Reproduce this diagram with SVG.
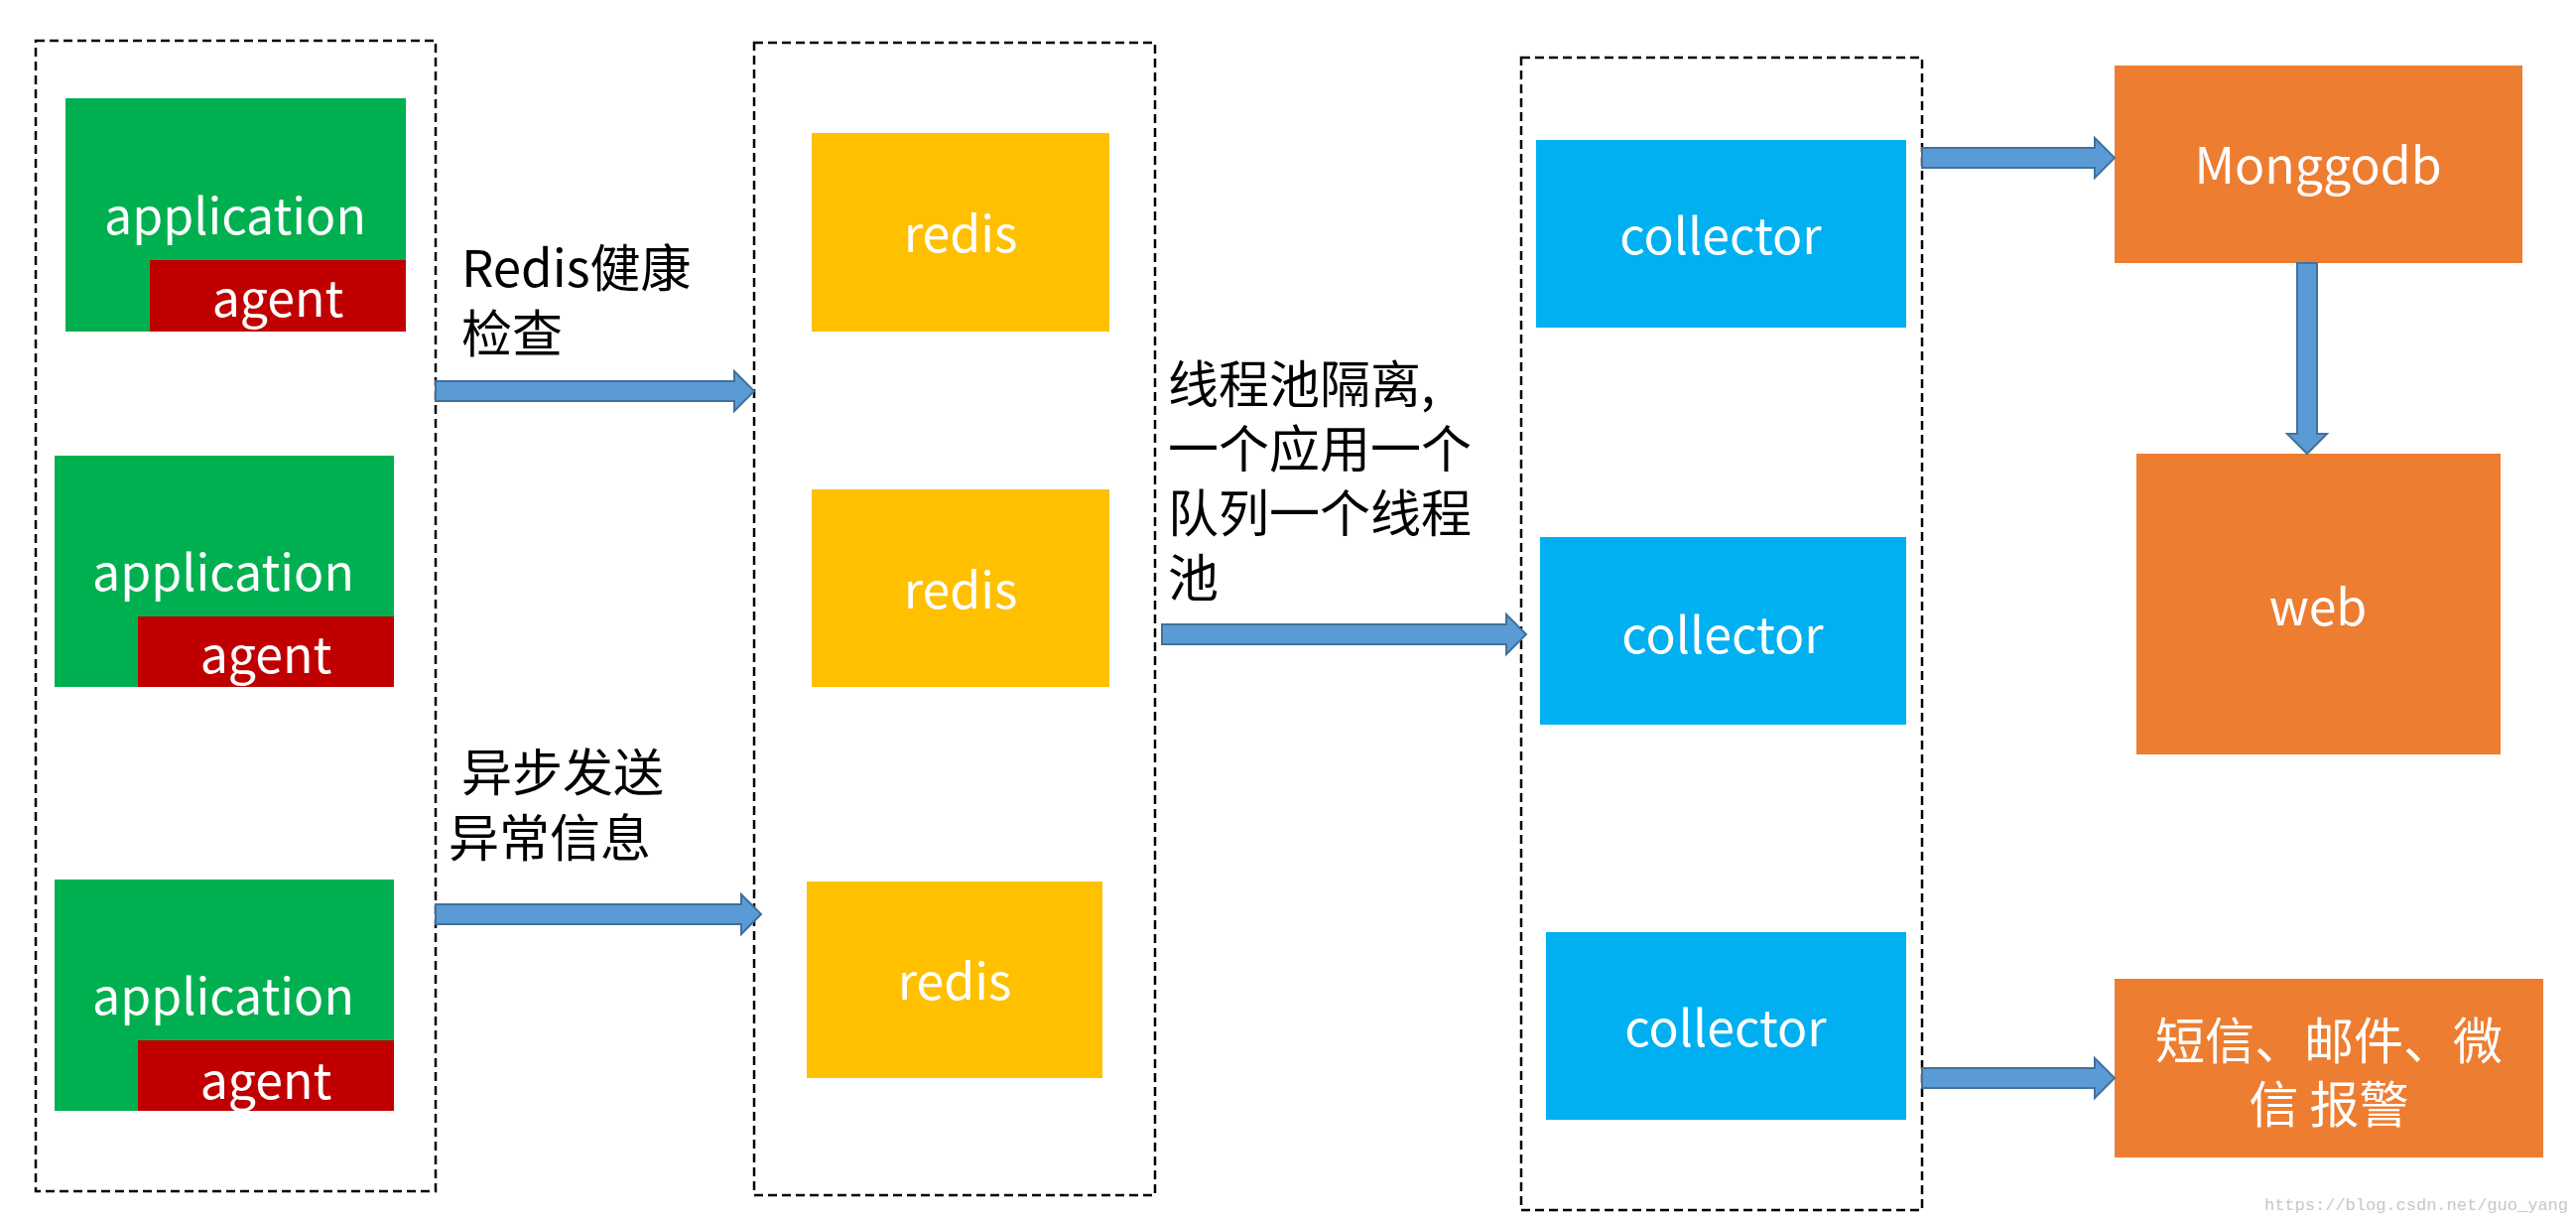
<svg xmlns="http://www.w3.org/2000/svg" width="2596" height="1232" viewBox="0 0 2596 1232">
<style>
.dash{fill:none;stroke:#000;stroke-width:2.5;stroke-dasharray:9 5}
.t{font-family:"Noto Sans CJK SC","Liberation Sans",sans-serif;fill:#fff;font-size:50px;text-anchor:middle;dominant-baseline:central}
.l{font-family:"Noto Sans CJK SC","Liberation Sans",sans-serif;fill:#000;font-size:51px;dominant-baseline:central}
.arr{fill:#5B9BD5;stroke:#41719C;stroke-width:2}
</style>
<rect width="2596" height="1232" fill="#fff"/>
<g id="groups">
<rect class="dash" x="36" y="41" width="403" height="1159"/>
<rect class="dash" x="760" y="43" width="404" height="1161"/>
<rect class="dash" x="1533" y="58" width="404" height="1161"/>
</g>
<g id="app1"><rect x="66" y="99" width="343" height="235" fill="#00B050"/><rect x="151" y="262" width="258" height="72" fill="#C00000"/><text class="t" x="237" y="214">application</text><text class="t" x="280" y="297">agent</text></g>
<g id="app2"><rect x="55" y="459" width="342" height="233" fill="#00B050"/><rect x="139" y="621" width="258" height="71" fill="#C00000"/><text class="t" x="225" y="573">application</text><text class="t" x="268" y="656">agent</text></g>
<g id="app3"><rect x="55" y="886" width="342" height="233" fill="#00B050"/><rect x="139" y="1048" width="258" height="71" fill="#C00000"/><text class="t" x="225" y="1000">application</text><text class="t" x="268" y="1085">agent</text></g>
<g id="redis1"><rect x="818" y="134" width="300" height="200" fill="#FFC000"/><text class="t" x="968" y="232">redis</text></g>
<g id="redis2"><rect x="818" y="493" width="300" height="199" fill="#FFC000"/><text class="t" x="968" y="591">redis</text></g>
<g id="redis3"><rect x="813" y="888" width="298" height="198" fill="#FFC000"/><text class="t" x="962" y="985">redis</text></g>
<g id="collector1"><rect x="1548" y="141" width="373" height="189" fill="#00B0F0"/><text class="t" x="1734" y="234">collector</text></g>
<g id="collector2"><rect x="1552" y="541" width="369" height="189" fill="#00B0F0"/><text class="t" x="1736" y="636">collector</text></g>
<g id="collector3"><rect x="1558" y="939" width="363" height="189" fill="#00B0F0"/><text class="t" x="1739" y="1032">collector</text></g>
<g id="mongo"><rect x="2131" y="66" width="411" height="199" fill="#ED7D31"/><text class="t" x="2336" y="163">Monggodb</text></g>
<g id="web"><rect x="2153" y="457" width="367" height="303" fill="#ED7D31"/><text class="t" x="2336" y="608">web</text></g>
<g id="alarm"><rect x="2131" y="986" width="432" height="180" fill="#ED7D31"/><text class="t" x="2347" y="1045">短信、邮件、微</text><text class="t" x="2347" y="1109">信 报警</text></g>
<g id="connectors">
<path class="arr" d="M439 384H740V374L760 394L740 414V404H439Z"/>
<path class="arr" d="M439 911H747V901L767 921L747 941V931H439Z"/>
<path class="arr" d="M1171 629H1518V619L1538 639L1518 659V649H1171Z"/>
<path class="arr" d="M1937 149H2111V139L2131 159L2111 179V169H1937Z"/>
<path class="arr" d="M1937 1076H2111V1066L2131 1086L2111 1106V1096H1937Z"/>
<path class="arr" d="M2315 265H2335V437H2345L2325 457L2305 437H2315Z"/>
</g>
<g id="labels">
<text class="l" x="465" y="267">Redis健康</text>
<text class="l" x="465" y="333">检查</text>
<text class="l" x="465" y="775">异步发送</text>
<text class="l" x="452" y="841">异常信息</text>
<text class="l" x="1177" y="384">线程池隔离,</text>
<text class="l" x="1177" y="449">一个应用一个</text>
<text class="l" x="1177" y="514">队列一个线程</text>
<text class="l" x="1177" y="579">池</text>
</g>
<text x="2588" y="1219" text-anchor="end" font-family="Liberation Mono,monospace" font-size="17" fill="#c8c8c8">https://blog.csdn.net/guo_yang</text>
</svg>
